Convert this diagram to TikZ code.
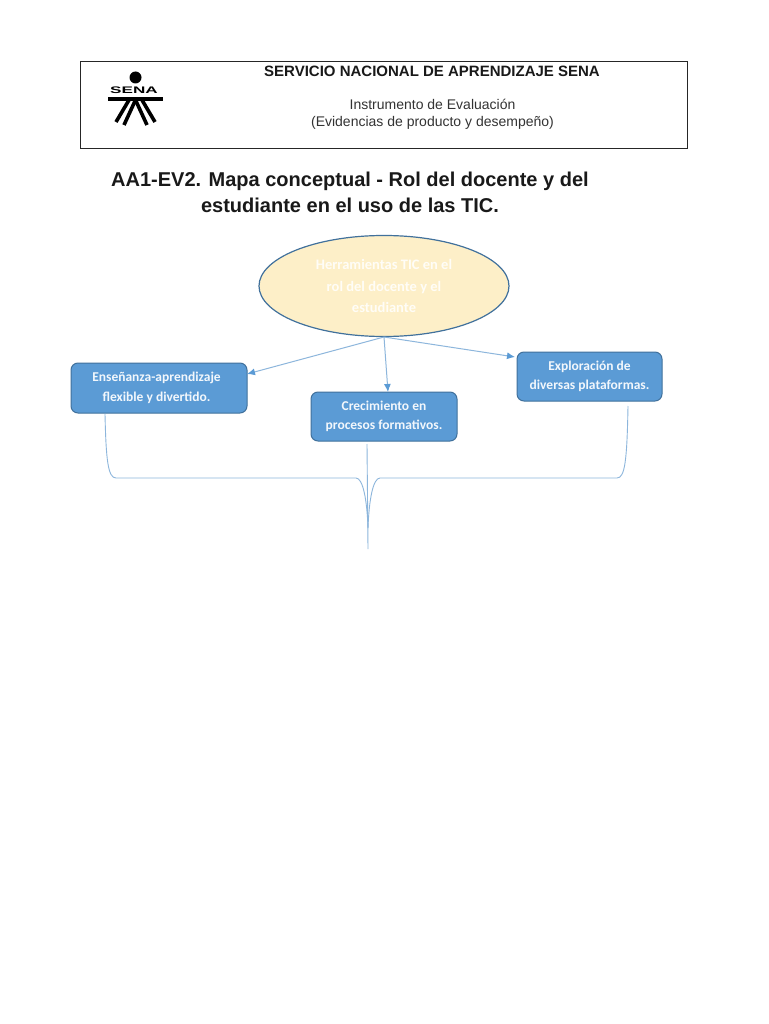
\documentclass[tikz,border=0pt]{standalone}
\usepackage{fontspec}
\setmainfont{Liberation Sans}
\newfontfamily\boxfont{Carlito}
\usetikzlibrary{arrows.meta,shapes.geometric}
\definecolor{boxblue}{HTML}{5B9BD5}
\definecolor{boxline}{HTML}{41719C}
\definecolor{linkblue}{HTML}{8DB6DC}
\definecolor{creamfill}{HTML}{FDEFC8}
\tikzset{
  idea/.style={draw=boxline,fill=boxblue,rounded corners=7pt,line width=1pt,text=white!92!boxblue,
    font=\boxfont\bfseries\fontsize{13.5}{19.5}\selectfont,align=center,inner sep=0pt},
  link/.style={draw=linkblue,line width=1pt,-{Latex[length=8pt,width=7pt,color=boxblue]}},
  brace/.style={draw=linkblue,line width=.9pt},
  title/.style={font=\bfseries\fontsize{20}{26}\selectfont,align=center,text=black!90},
  head/.style={font=\fontsize{14}{17}\selectfont,align=center,text=black!80},
  leg/.style={line width=3.6pt}
}
\begin{document}
\begin{tikzpicture}[x=1pt,y=-1pt]
  \useasboundingbox[fill=white] (0,0) rectangle (768,1024);
  % encabezado
  \node[draw=black!85,line width=1pt,minimum width=607pt,minimum height=87pt,inner sep=0pt] (frame) at (384,105) {};
  \node[font=\bfseries\fontsize{15}{17}\selectfont,text=black!90] (sena) at (432,71) {SERVICIO NACIONAL DE APRENDIZAJE SENA};
  \node[head] (instr) at (432.5,114.5) {Instrumento de Evaluación\\(Evidencias de producto y desempeño)};
  % logo
  \node[circle,fill=black,minimum size=12pt,inner sep=0pt] (dot) at (135.5,77.5) {};
  \node[font=\bfseries\fontsize{9.5}{10}\selectfont,inner sep=0pt,xscale=1.8] (logo) at (134,90) {SENA};
  \draw[line width=4pt] (108,99) -- (162.5,99);
  \draw[leg] (129,100) -- (116,122);
  \draw[leg] (135.5,100) -- (124,125);
  \draw[leg] (135.5,100) -- (147,125);
  \draw[leg] (142,100) -- (155,122);
  % titulo
  \node[title] (maintitle) at (350,192) {AA1-EV2. Mapa conceptual - Rol del docente y del\\estudiante en el uso de las TIC.};
  % mapa
  \node[ellipse,draw=boxline,fill=creamfill,line width=1.2pt,minimum width=250pt,minimum height=101pt,inner sep=0pt,
    text=white!85!creamfill,font=\boxfont\bfseries\fontsize{14.5}{21.5}\selectfont,align=center] (tools) at (384,286)
    {Herramientas TIC en el\\rol del docente y el\\estudiante};
  \node[idea,minimum width=176pt,minimum height=50pt] (teach) at (159,388) {\hspace{-5pt}Enseñanza-aprendizaje\\\hspace{-5pt}flexible y divertido.};
  \node[idea,minimum width=146pt,minimum height=49pt] (growth) at (384,416.5) {Crecimiento en\\procesos formativos.};
  \node[idea,minimum width=145pt,minimum height=49pt] (explore) at (589.5,376.5) {Exploración de\\diversas plataformas.};
  \coordinate (root) at (384,337);
  \coordinate (teachin) at (247,374);
  \coordinate (growthin) at (388,392);
  \coordinate (explorein) at (515,357);
  \draw[link] (root) -- (teachin);
  \draw[link] (root) -- (growthin);
  \draw[link] (root) -- (explorein);
  % llave
  \coordinate (tip) at (368,549);
  \coordinate (stem) at (367,444);
  \coordinate (leftend) at (105,414);
  \coordinate (rightend) at (628,406);
  \coordinate (joint) at (368,528);
  \draw[brace] (stem) -- (tip);
  \draw[brace] (leftend) .. controls (106,460) and (108,478) .. (116,478) -- (356,478)
    .. controls (363,478) and (367,500) .. (joint);
  \draw[brace] (rightend) .. controls (627,460) and (625,478) .. (617,478) -- (380,478)
    .. controls (373,478) and (369,500) .. (joint);
\end{tikzpicture}
\end{document}
